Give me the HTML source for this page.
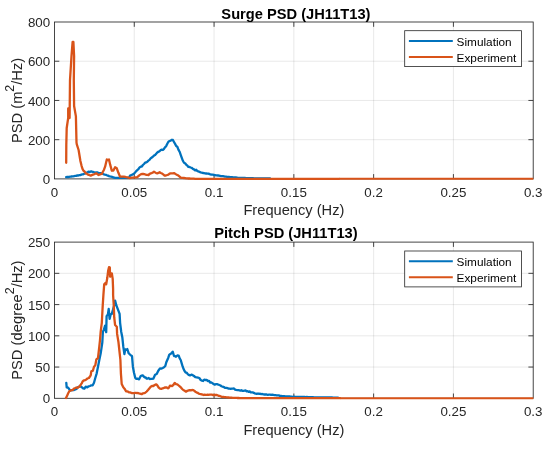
<!DOCTYPE html>
<html><head><meta charset="utf-8"><title>PSD plots</title>
<style>
html,body{margin:0;padding:0;background:#fff;}
svg{display:block;}
text{font-family:"Liberation Sans",Arial,Helvetica,sans-serif;fill:#262626;}
.tk{font-size:13.33px;}
.lg{font-size:11.8px;fill:#000;}
.lb{font-size:14.67px;}
.tt{font-size:14.67px;font-weight:bold;fill:#000;}
</style></head>
<body>
<svg width="550" height="450" viewBox="0 0 550 450">
<rect x="0" y="0" width="550" height="450" fill="#fff"/>
<rect x="54.5" y="22.0" width="478.70000000000005" height="156.9" fill="#fff"/>
<line x1="134.28" y1="22.0" x2="134.28" y2="178.9" stroke="#262626" stroke-opacity="0.13" stroke-width="0.8"/>
<line x1="214.07" y1="22.0" x2="214.07" y2="178.9" stroke="#262626" stroke-opacity="0.13" stroke-width="0.8"/>
<line x1="293.85" y1="22.0" x2="293.85" y2="178.9" stroke="#262626" stroke-opacity="0.13" stroke-width="0.8"/>
<line x1="373.63" y1="22.0" x2="373.63" y2="178.9" stroke="#262626" stroke-opacity="0.13" stroke-width="0.8"/>
<line x1="453.42" y1="22.0" x2="453.42" y2="178.9" stroke="#262626" stroke-opacity="0.13" stroke-width="0.8"/>
<line x1="54.5" y1="139.68" x2="533.2" y2="139.68" stroke="#262626" stroke-opacity="0.13" stroke-width="0.8"/>
<line x1="54.5" y1="100.45" x2="533.2" y2="100.45" stroke="#262626" stroke-opacity="0.13" stroke-width="0.8"/>
<line x1="54.5" y1="61.23" x2="533.2" y2="61.23" stroke="#262626" stroke-opacity="0.13" stroke-width="0.8"/>
<rect x="54.5" y="22.0" width="478.70000000000005" height="156.9" fill="none" stroke="#262626" stroke-width="0.85"/>
<text x="54.50" y="196.6" text-anchor="middle" class="tk">0</text>
<line x1="134.28" y1="178.9" x2="134.28" y2="174.1" stroke="#262626" stroke-width="0.85"/>
<line x1="134.28" y1="22.0" x2="134.28" y2="26.8" stroke="#262626" stroke-width="0.85"/>
<text x="134.28" y="196.6" text-anchor="middle" class="tk">0.05</text>
<line x1="214.07" y1="178.9" x2="214.07" y2="174.1" stroke="#262626" stroke-width="0.85"/>
<line x1="214.07" y1="22.0" x2="214.07" y2="26.8" stroke="#262626" stroke-width="0.85"/>
<text x="214.07" y="196.6" text-anchor="middle" class="tk">0.1</text>
<line x1="293.85" y1="178.9" x2="293.85" y2="174.1" stroke="#262626" stroke-width="0.85"/>
<line x1="293.85" y1="22.0" x2="293.85" y2="26.8" stroke="#262626" stroke-width="0.85"/>
<text x="293.85" y="196.6" text-anchor="middle" class="tk">0.15</text>
<line x1="373.63" y1="178.9" x2="373.63" y2="174.1" stroke="#262626" stroke-width="0.85"/>
<line x1="373.63" y1="22.0" x2="373.63" y2="26.8" stroke="#262626" stroke-width="0.85"/>
<text x="373.63" y="196.6" text-anchor="middle" class="tk">0.2</text>
<line x1="453.42" y1="178.9" x2="453.42" y2="174.1" stroke="#262626" stroke-width="0.85"/>
<line x1="453.42" y1="22.0" x2="453.42" y2="26.8" stroke="#262626" stroke-width="0.85"/>
<text x="453.42" y="196.6" text-anchor="middle" class="tk">0.25</text>
<text x="533.20" y="196.6" text-anchor="middle" class="tk">0.3</text>
<text x="50.2" y="184.0" text-anchor="end" class="tk">0</text>
<line x1="54.5" y1="139.68" x2="59.3" y2="139.68" stroke="#262626" stroke-width="0.85"/>
<line x1="533.2" y1="139.68" x2="528.4000000000001" y2="139.68" stroke="#262626" stroke-width="0.85"/>
<text x="50.2" y="144.8" text-anchor="end" class="tk">200</text>
<line x1="54.5" y1="100.45" x2="59.3" y2="100.45" stroke="#262626" stroke-width="0.85"/>
<line x1="533.2" y1="100.45" x2="528.4000000000001" y2="100.45" stroke="#262626" stroke-width="0.85"/>
<text x="50.2" y="105.5" text-anchor="end" class="tk">400</text>
<line x1="54.5" y1="61.23" x2="59.3" y2="61.23" stroke="#262626" stroke-width="0.85"/>
<line x1="533.2" y1="61.23" x2="528.4000000000001" y2="61.23" stroke="#262626" stroke-width="0.85"/>
<text x="50.2" y="66.3" text-anchor="end" class="tk">600</text>
<text x="50.2" y="27.1" text-anchor="end" class="tk">800</text>
<path d="M66.2,177.2 L67.2,177.0 L68.2,177.0 L69.2,176.8 L70.2,176.6 L71.2,176.5 L72.2,176.3 L73.2,176.3 L74.2,176.2 L75.2,175.8 L76.2,175.8 L77.3,175.4 L78.4,175.5 L79.6,175.1 L80.7,175.0 L81.8,174.4 L82.9,174.4 L84.0,173.8 L85.1,173.5 L86.2,172.6 L87.3,172.6 L88.4,171.7 L89.5,172.1 L90.7,171.5 L91.8,171.5 L92.9,172.0 L94.0,172.2 L95.1,172.7 L96.2,172.4 L97.3,172.4 L98.4,172.8 L99.5,173.1 L100.6,173.1 L101.8,173.6 L102.9,174.0 L104.0,174.4 L105.0,174.7 L106.0,174.9 L107.0,175.3 L108.0,175.6 L109.0,176.1 L110.0,176.4 L111.0,176.6 L112.0,176.8 L113.0,177.3 L114.0,177.5 L115.0,177.8 L116.0,177.8 L117.0,177.8 L118.0,177.9 L119.0,177.8 L120.0,177.7 L121.0,177.8 L122.0,177.8 L123.0,177.8 L124.0,177.9 L125.0,177.8 L126.0,177.8 L127.0,177.8 L128.0,177.8 L129.0,177.8 L130.1,175.6 L131.5,175.0 L132.9,174.4 L134.0,173.6 L135.1,172.5 L136.2,171.1 L137.3,170.1 L138.4,169.2 L139.6,167.4 L140.7,166.7 L141.8,166.5 L142.9,165.0 L144.0,164.0 L145.1,162.7 L146.2,162.4 L147.3,161.8 L148.4,160.6 L149.5,159.9 L150.6,158.4 L151.8,157.5 L152.9,156.6 L154.0,155.6 L155.1,155.0 L156.2,153.7 L157.3,152.5 L158.4,151.7 L159.5,151.3 L160.7,150.1 L161.8,149.7 L162.9,150.0 L164.0,148.9 L165.1,147.2 L166.2,146.1 L167.3,143.7 L168.4,141.7 L169.6,141.0 L170.7,140.6 L171.8,139.8 L172.9,140.0 L174.0,142.0 L175.1,143.9 L176.2,146.0 L177.3,146.7 L178.4,149.6 L179.6,151.7 L180.7,154.8 L181.8,157.8 L182.9,160.8 L184.0,162.8 L185.1,163.3 L186.2,164.7 L187.3,165.6 L188.4,166.9 L189.5,167.0 L190.7,167.5 L191.8,167.9 L192.9,168.9 L194.0,169.4 L195.1,170.4 L196.2,169.8 L197.3,171.1 L198.4,171.3 L199.5,171.9 L200.6,172.3 L201.8,172.6 L202.9,173.0 L204.0,173.1 L205.1,173.3 L206.2,173.5 L207.4,173.7 L208.5,173.6 L209.6,174.1 L210.7,174.5 L211.8,174.6 L212.9,174.6 L214.0,175.0 L215.0,175.1 L216.0,175.3 L217.0,175.4 L218.0,175.5 L219.0,175.7 L220.0,175.9 L221.0,176.1 L222.0,176.1 L223.0,176.2 L224.0,176.4 L225.0,176.6 L226.0,176.6 L227.0,176.8 L228.0,176.9 L229.0,177.0 L230.0,177.1 L231.0,177.2 L232.0,177.2 L233.0,177.4 L234.0,177.4 L235.0,177.4 L236.0,177.5 L237.0,177.6 L238.0,177.8 L239.0,177.8 L240.0,177.9 L241.0,177.9 L242.0,178.0 L243.0,178.0 L244.0,178.0 L245.0,178.0 L246.0,178.1 L247.0,178.1 L248.0,178.1 L249.0,178.2 L250.0,178.2 L251.0,178.2 L252.0,178.2 L253.0,178.2 L254.0,178.3 L255.0,178.3 L256.0,178.3 L257.0,178.3 L258.0,178.3 L259.0,178.4 L260.0,178.4 L261.0,178.4 L262.0,178.4 L263.0,178.4 L264.0,178.4 L265.0,178.4 L266.0,178.4 L267.0,178.5 L268.0,178.5 L269.0,178.5 L270.0,178.5" fill="none" stroke="#0072BD" stroke-width="2.3" stroke-linejoin="round" stroke-linecap="round"/>
<path d="M339.1,178.8 L533.3,178.8" fill="none" stroke="#D95319" stroke-width="2" stroke-linecap="butt"/>
<path d="M66.2,162.8 L66.3,145.0 L66.7,128.0 L68.2,117.8 L68.2,108.4 L68.9,118.0 L69.6,118.0 L70.0,80.0 L71.5,56.0 L72.6,42.0 L73.4,42.0 L74.1,56.0 L73.8,80.0 L74.1,106.0 L75.9,116.4 L76.5,142.5 L76.8,144.4 L78.6,150.0 L80.4,161.0 L81.5,165.6 L82.5,168.9 L83.5,170.8 L84.6,171.5 L85.6,173.3 L86.6,173.5 L87.6,174.4 L88.7,174.8 L89.7,175.2 L90.7,175.6 L91.8,175.1 L92.9,174.7 L94.0,174.3 L95.1,173.8 L96.2,173.3 L97.3,174.0 L98.4,175.0 L99.5,174.6 L100.7,174.2 L101.8,173.9 L102.9,171.7 L104.0,169.7 L105.1,166.7 L106.8,159.4 L107.9,160.1 L109.0,159.4 L110.1,164.4 L111.8,170.6 L113.4,170.6 L115.1,167.2 L116.8,168.3 L118.4,172.8 L120.1,176.7 L121.4,176.7 L122.7,176.7 L124.0,176.7 L125.1,176.9 L126.2,177.2 L127.3,177.4 L128.5,177.7 L129.6,178.0 L130.7,177.9 L131.8,177.7 L132.9,177.6 L134.0,177.6 L135.1,177.4 L136.2,177.3 L137.3,177.2 L138.4,176.2 L139.6,175.1 L140.7,174.4 L142.3,173.9 L143.3,174.0 L144.3,174.1 L145.4,174.5 L146.4,174.9 L147.4,174.9 L148.4,175.0 L149.6,174.0 L150.7,173.3 L151.8,173.1 L152.9,172.5 L154.0,171.7 L155.1,172.4 L156.2,173.1 L157.3,173.3 L158.4,172.9 L159.6,172.2 L160.7,173.0 L161.8,173.3 L163.2,174.4 L164.6,175.6 L165.9,175.5 L167.3,175.0 L168.4,174.7 L169.6,173.7 L170.7,173.3 L171.8,173.4 L172.9,173.3 L174.0,173.1 L175.1,173.7 L176.2,174.4 L177.3,175.0 L178.4,175.6 L179.6,176.6 L180.7,177.6 L181.8,177.8 L182.9,177.9 L184.0,178.0 L185.1,178.1 L186.2,178.3 L187.3,178.4 L188.4,178.5 L189.5,178.5 L190.6,178.6 L191.7,178.6 L192.8,178.7 L193.9,178.7 L195.0,178.8 L196.0,178.8 L197.0,178.8 L198.0,178.8 L199.0,178.8 L200.0,178.8 L201.0,178.8 L202.0,178.8 L203.0,178.8 L204.0,178.8 L205.0,178.8 L206.0,178.8 L207.0,178.8 L208.0,178.8 L209.0,178.8 L210.0,178.8 L211.0,178.8 L212.0,178.8 L213.0,178.8 L214.0,178.8 L215.0,178.8 L216.0,178.8 L217.0,178.8 L218.0,178.8 L219.0,178.8 L220.0,178.8 L221.0,178.8 L222.0,178.8 L223.0,178.8 L224.0,178.8 L225.0,178.8 L226.0,178.8 L227.0,178.8 L228.0,178.8 L229.0,178.8 L230.0,178.8 L231.0,178.8 L232.0,178.8 L233.0,178.8 L234.0,178.8 L235.0,178.8 L236.0,178.8 L237.0,178.8 L238.0,178.8 L239.0,178.8 L240.0,178.8 L241.0,178.8 L242.0,178.8 L243.0,178.8 L244.0,178.8 L245.0,178.8 L246.0,178.8 L247.0,178.8 L248.0,178.8 L249.0,178.8 L250.0,178.8 L251.0,178.8 L252.1,178.8 L253.1,178.8 L254.1,178.8 L255.1,178.8 L256.1,178.8 L257.1,178.8 L258.1,178.8 L259.1,178.8 L260.1,178.8 L261.1,178.8 L262.1,178.8 L263.1,178.8 L264.1,178.8 L265.1,178.8 L266.1,178.8 L267.1,178.8 L268.1,178.8 L269.1,178.8 L270.1,178.8 L271.1,178.8 L272.1,178.8 L273.1,178.8 L274.1,178.8 L275.1,178.8 L276.1,178.8 L277.1,178.8 L278.1,178.8 L279.1,178.8 L280.1,178.8 L281.1,178.8 L282.1,178.8 L283.1,178.8 L284.1,178.8 L285.1,178.8 L286.1,178.8 L287.1,178.8 L288.1,178.8 L289.1,178.8 L290.1,178.8 L291.1,178.8 L292.1,178.8 L293.1,178.8 L294.1,178.8 L295.1,178.8 L296.1,178.8 L297.1,178.8 L298.1,178.8 L299.1,178.8 L300.1,178.8 L301.1,178.8 L302.1,178.8 L303.1,178.8 L304.1,178.8 L305.1,178.8 L306.1,178.8 L307.1,178.8 L308.1,178.8 L309.1,178.8 L310.1,178.8 L311.1,178.8 L312.1,178.8 L313.1,178.8 L314.1,178.8 L315.1,178.8 L316.1,178.8 L317.1,178.8 L318.1,178.8 L319.1,178.8 L320.1,178.8 L321.1,178.8 L322.1,178.8 L323.1,178.8 L324.1,178.8 L325.1,178.8 L326.1,178.8 L327.1,178.8 L328.1,178.8 L329.1,178.8 L330.1,178.8 L331.1,178.8 L332.1,178.8 L333.1,178.8 L334.1,178.8 L335.1,178.8 L336.1,178.8 L337.1,178.8 L338.1,178.8 L339.1,178.8" fill="none" stroke="#D95319" stroke-width="2.3" stroke-linejoin="round" stroke-linecap="round"/>
<text x="295.9" y="18.7" text-anchor="middle" class="tt">Surge PSD (JH11T13)</text>
<text x="293.9" y="215.3" text-anchor="middle" class="lb">Frequency (Hz)</text>
<text transform="translate(21.7,100.4) rotate(-90)" text-anchor="middle" class="lb">PSD (m<tspan dy="-7.3" font-size="12.4px">2</tspan><tspan dy="7.3">/Hz)</tspan></text>
<rect x="404.7" y="30.7" width="116.8" height="35.9" fill="#fff" stroke="#262626" stroke-width="0.8"/>
<line x1="408.9" y1="41.0" x2="452.8" y2="41.0" stroke="#0072BD" stroke-width="2"/>
<line x1="408.9" y1="56.9" x2="452.8" y2="56.9" stroke="#D95319" stroke-width="2"/>
<text x="456.6" y="45.6" class="lg">Simulation</text>
<text x="456.6" y="61.5" class="lg">Experiment</text>
<rect x="54.5" y="242.1" width="478.70000000000005" height="156.20000000000002" fill="#fff"/>
<line x1="134.28" y1="242.1" x2="134.28" y2="398.3" stroke="#262626" stroke-opacity="0.13" stroke-width="0.8"/>
<line x1="214.07" y1="242.1" x2="214.07" y2="398.3" stroke="#262626" stroke-opacity="0.13" stroke-width="0.8"/>
<line x1="293.85" y1="242.1" x2="293.85" y2="398.3" stroke="#262626" stroke-opacity="0.13" stroke-width="0.8"/>
<line x1="373.63" y1="242.1" x2="373.63" y2="398.3" stroke="#262626" stroke-opacity="0.13" stroke-width="0.8"/>
<line x1="453.42" y1="242.1" x2="453.42" y2="398.3" stroke="#262626" stroke-opacity="0.13" stroke-width="0.8"/>
<line x1="54.5" y1="367.06" x2="533.2" y2="367.06" stroke="#262626" stroke-opacity="0.13" stroke-width="0.8"/>
<line x1="54.5" y1="335.82" x2="533.2" y2="335.82" stroke="#262626" stroke-opacity="0.13" stroke-width="0.8"/>
<line x1="54.5" y1="304.58" x2="533.2" y2="304.58" stroke="#262626" stroke-opacity="0.13" stroke-width="0.8"/>
<line x1="54.5" y1="273.34" x2="533.2" y2="273.34" stroke="#262626" stroke-opacity="0.13" stroke-width="0.8"/>
<rect x="54.5" y="242.1" width="478.70000000000005" height="156.20000000000002" fill="none" stroke="#262626" stroke-width="0.85"/>
<text x="54.50" y="416.0" text-anchor="middle" class="tk">0</text>
<line x1="134.28" y1="398.3" x2="134.28" y2="393.5" stroke="#262626" stroke-width="0.85"/>
<line x1="134.28" y1="242.1" x2="134.28" y2="246.9" stroke="#262626" stroke-width="0.85"/>
<text x="134.28" y="416.0" text-anchor="middle" class="tk">0.05</text>
<line x1="214.07" y1="398.3" x2="214.07" y2="393.5" stroke="#262626" stroke-width="0.85"/>
<line x1="214.07" y1="242.1" x2="214.07" y2="246.9" stroke="#262626" stroke-width="0.85"/>
<text x="214.07" y="416.0" text-anchor="middle" class="tk">0.1</text>
<line x1="293.85" y1="398.3" x2="293.85" y2="393.5" stroke="#262626" stroke-width="0.85"/>
<line x1="293.85" y1="242.1" x2="293.85" y2="246.9" stroke="#262626" stroke-width="0.85"/>
<text x="293.85" y="416.0" text-anchor="middle" class="tk">0.15</text>
<line x1="373.63" y1="398.3" x2="373.63" y2="393.5" stroke="#262626" stroke-width="0.85"/>
<line x1="373.63" y1="242.1" x2="373.63" y2="246.9" stroke="#262626" stroke-width="0.85"/>
<text x="373.63" y="416.0" text-anchor="middle" class="tk">0.2</text>
<line x1="453.42" y1="398.3" x2="453.42" y2="393.5" stroke="#262626" stroke-width="0.85"/>
<line x1="453.42" y1="242.1" x2="453.42" y2="246.9" stroke="#262626" stroke-width="0.85"/>
<text x="453.42" y="416.0" text-anchor="middle" class="tk">0.25</text>
<text x="533.20" y="416.0" text-anchor="middle" class="tk">0.3</text>
<text x="50.2" y="403.4" text-anchor="end" class="tk">0</text>
<line x1="54.5" y1="367.06" x2="59.3" y2="367.06" stroke="#262626" stroke-width="0.85"/>
<line x1="533.2" y1="367.06" x2="528.4000000000001" y2="367.06" stroke="#262626" stroke-width="0.85"/>
<text x="50.2" y="372.2" text-anchor="end" class="tk">50</text>
<line x1="54.5" y1="335.82" x2="59.3" y2="335.82" stroke="#262626" stroke-width="0.85"/>
<line x1="533.2" y1="335.82" x2="528.4000000000001" y2="335.82" stroke="#262626" stroke-width="0.85"/>
<text x="50.2" y="340.9" text-anchor="end" class="tk">100</text>
<line x1="54.5" y1="304.58" x2="59.3" y2="304.58" stroke="#262626" stroke-width="0.85"/>
<line x1="533.2" y1="304.58" x2="528.4000000000001" y2="304.58" stroke="#262626" stroke-width="0.85"/>
<text x="50.2" y="309.7" text-anchor="end" class="tk">150</text>
<line x1="54.5" y1="273.34" x2="59.3" y2="273.34" stroke="#262626" stroke-width="0.85"/>
<line x1="533.2" y1="273.34" x2="528.4000000000001" y2="273.34" stroke="#262626" stroke-width="0.85"/>
<text x="50.2" y="278.4" text-anchor="end" class="tk">200</text>
<text x="50.2" y="247.2" text-anchor="end" class="tk">250</text>
<path d="M66.3,382.9 L66.7,387.3 L67.7,387.5 L68.7,388.3 L70.0,390.4 L71.0,390.3 L72.0,390.1 L73.0,390.2 L74.0,390.0 L75.3,389.5 L76.7,388.7 L78.0,387.1 L79.3,386.7 L80.7,386.3 L82.0,387.3 L83.2,388.4 L84.4,388.7 L85.7,386.7 L87.3,387.3 L88.7,386.3 L90.0,386.0 L91.3,385.3 L92.7,385.3 L94.0,382.7 L95.3,378.0 L96.7,373.3 L98.0,366.7 L99.3,360.0 L100.7,353.3 L102.3,342.7 L102.9,331.7 L104.0,329.4 L105.1,325.6 L106.2,332.2 L106.6,316.1 L107.9,314.4 L108.7,308.9 L109.6,318.9 L110.7,314.4 L111.8,313.9 L113.1,309.4 L114.0,306.0 L115.1,300.6 L116.2,305.0 L117.9,309.4 L119.6,313.9 L120.1,322.8 L121.2,331.7 L122.3,337.2 L123.3,346.7 L124.4,354.0 L125.3,349.3 L126.3,349.9 L127.3,349.0 L128.7,353.3 L129.7,354.3 L130.7,355.3 L132.0,356.0 L132.9,366.7 L134.0,372.7 L135.3,378.0 L136.3,378.9 L137.3,378.7 L139.1,379.3 L140.7,376.0 L141.7,375.6 L142.7,375.3 L143.7,376.5 L144.7,377.3 L145.7,377.5 L146.7,378.7 L147.7,378.6 L148.7,378.0 L149.7,379.0 L150.7,378.9 L152.0,378.8 L153.3,378.7 L155.1,374.7 L156.7,374.0 L158.3,370.7 L160.0,368.4 L161.3,368.6 L162.7,368.0 L164.0,367.3 L165.3,366.0 L166.3,362.3 L167.3,360.0 L168.3,357.7 L169.3,354.7 L170.3,354.1 L171.3,353.3 L172.7,351.7 L174.0,356.0 L175.0,356.1 L176.0,356.7 L177.3,355.5 L178.7,355.7 L179.7,358.4 L180.7,360.0 L181.7,363.3 L182.7,366.7 L183.7,369.3 L184.7,371.3 L185.7,372.6 L186.7,372.7 L187.7,374.1 L188.7,374.9 L190.0,375.4 L191.3,374.7 L192.7,375.2 L194.0,376.0 L195.3,377.1 L196.7,377.3 L198.0,377.6 L199.3,378.0 L200.7,380.0 L202.0,380.7 L203.1,381.0 L204.2,379.6 L205.3,380.0 L206.7,380.0 L208.0,381.0 L209.1,381.0 L210.2,382.6 L211.3,382.4 L212.4,383.1 L213.6,384.1 L214.7,384.7 L216.1,384.2 L217.4,384.2 L218.4,384.7 L219.4,385.0 L220.5,385.5 L221.5,386.2 L222.7,386.7 L223.9,387.1 L225.2,387.9 L226.4,387.8 L227.5,388.2 L228.6,388.6 L229.7,388.6 L230.7,388.9 L231.8,388.7 L232.9,388.6 L234.0,388.5 L235.1,389.6 L236.2,389.9 L237.3,390.1 L238.4,390.1 L239.5,390.3 L240.5,390.6 L241.5,390.2 L242.5,390.9 L243.6,390.8 L244.6,390.6 L245.6,390.5 L246.6,391.3 L247.6,391.1 L248.6,391.8 L249.7,391.4 L250.7,392.3 L251.7,392.3 L252.7,392.4 L253.8,392.8 L254.8,393.4 L255.8,393.6 L256.9,393.9 L258.0,393.5 L259.1,393.9 L260.2,393.7 L261.2,394.2 L262.3,394.0 L263.4,394.4 L264.5,394.5 L265.6,394.4 L266.7,394.5 L267.8,394.8 L268.9,394.6 L270.0,394.6 L271.1,394.9 L272.2,394.7 L273.3,394.9 L274.4,395.1 L275.5,395.2 L276.6,395.4 L277.7,395.3 L278.8,395.4 L279.9,395.8 L280.9,395.8 L282.0,396.1 L283.1,396.2 L284.2,396.1 L285.3,396.3 L286.4,396.3 L287.5,396.4 L288.6,396.5 L289.7,396.5 L290.7,396.6 L291.8,396.7 L292.9,396.8 L294.0,396.7 L295.1,396.8 L296.2,396.8 L297.2,396.9 L298.3,396.8 L299.4,396.9 L300.4,397.0 L301.5,397.0 L302.6,397.0 L303.6,397.0 L304.7,397.0 L305.7,397.1 L306.8,397.0 L307.9,397.2 L308.9,397.2 L310.0,397.2 L311.0,397.2 L312.0,397.2 L313.0,397.2 L314.0,397.3 L315.0,397.3 L316.0,397.3 L317.0,397.3 L318.0,397.3 L319.0,397.3 L320.0,397.4 L321.0,397.4 L322.0,397.4 L323.0,397.4 L324.0,397.4 L325.0,397.4 L326.0,397.4 L327.0,397.4 L328.0,397.5 L329.0,397.5 L330.0,397.5 L331.0,397.5 L332.0,397.5 L333.0,397.6 L334.0,397.6 L335.0,397.6 L336.0,397.7 L337.0,397.7 L338.0,397.7" fill="none" stroke="#0072BD" stroke-width="2.3" stroke-linejoin="round" stroke-linecap="round"/>
<path d="M339.9,398.2 L533.3,398.2" fill="none" stroke="#D95319" stroke-width="2" stroke-linecap="butt"/>
<path d="M66.0,398.0 L67.1,395.7 L68.2,393.3 L69.3,391.3 L70.4,390.8 L71.6,390.1 L72.7,390.0 L74.0,388.5 L75.3,388.0 L76.4,387.5 L77.6,387.8 L78.7,386.9 L79.7,386.3 L80.7,384.7 L81.7,383.4 L82.7,381.3 L83.8,380.3 L84.9,380.3 L86.0,379.7 L87.5,378.5 L88.9,378.0 L90.7,375.3 L91.3,371.3 L92.9,370.7 L94.0,366.7 L95.3,365.3 L96.4,359.3 L98.0,358.0 L99.3,346.7 L100.0,340.0 L100.7,331.7 L101.8,322.8 L102.7,306.0 L103.4,295.0 L104.2,284.4 L105.7,282.8 L106.2,284.4 L107.3,277.8 L108.2,270.5 L109.0,267.2 L109.8,267.4 L110.1,276.7 L110.7,273.3 L111.8,273.3 L112.7,278.9 L113.1,288.9 L113.1,295.0 L113.8,306.0 L114.2,317.2 L115.1,325.0 L116.8,326.7 L117.1,333.9 L118.4,341.7 L119.1,348.0 L120.4,360.0 L120.9,373.3 L121.7,384.0 L123.3,387.3 L124.7,388.9 L126.0,391.3 L127.0,391.3 L128.0,391.6 L129.0,392.4 L130.0,392.4 L131.0,392.8 L132.0,393.0 L133.0,393.1 L134.0,393.1 L135.0,392.9 L136.0,392.9 L137.0,393.1 L138.0,393.0 L139.0,393.4 L140.0,393.7 L141.0,394.0 L142.0,394.0 L143.1,393.3 L144.2,393.2 L145.3,392.7 L146.7,391.5 L148.0,390.0 L149.3,388.4 L150.7,386.7 L152.0,385.9 L153.3,386.0 L154.3,385.3 L155.3,384.7 L156.3,384.4 L157.3,385.3 L158.7,387.6 L160.0,388.7 L161.3,388.9 L162.7,388.3 L164.0,387.9 L165.3,387.3 L166.7,387.5 L168.0,388.3 L169.0,387.5 L170.0,385.6 L171.0,385.9 L172.0,386.0 L173.3,385.0 L174.7,382.9 L176.0,384.1 L177.3,384.3 L178.7,385.5 L180.0,386.7 L181.1,387.7 L182.2,389.0 L183.3,390.0 L184.7,390.8 L186.0,391.7 L187.3,390.8 L188.7,390.4 L189.8,390.1 L190.9,390.4 L192.0,390.0 L193.1,390.1 L194.2,390.7 L195.3,391.7 L196.4,392.4 L197.6,392.8 L198.7,393.6 L199.7,393.9 L200.7,394.1 L201.7,394.4 L202.7,394.7 L203.7,395.0 L204.7,394.7 L205.7,394.8 L206.7,394.9 L207.7,394.7 L208.7,394.9 L209.7,394.7 L210.7,394.7 L211.7,394.7 L212.7,395.0 L213.7,394.9 L214.7,395.0 L216.5,394.9 L217.5,395.3 L218.5,395.8 L219.5,395.9 L220.5,396.3 L221.5,396.8 L222.5,396.9 L223.5,397.0 L224.5,397.1 L225.6,397.2 L226.6,397.3 L227.6,397.4 L228.6,397.5 L229.6,397.6 L230.6,397.6 L231.6,397.7 L232.6,397.8 L233.6,397.8 L234.6,397.8 L235.6,397.9 L236.7,397.9 L237.7,398.0 L238.7,398.0 L239.7,398.1 L240.7,398.1 L241.7,398.2 L242.7,398.2 L243.7,398.2 L244.7,398.2 L245.7,398.2 L246.7,398.2 L247.7,398.2 L248.7,398.2 L249.7,398.2 L250.7,398.2 L251.7,398.2 L252.7,398.2 L253.7,398.2 L254.7,398.2 L255.7,398.2 L256.7,398.2 L257.7,398.2 L258.7,398.2 L259.7,398.2 L260.7,398.2 L261.7,398.2 L262.7,398.2 L263.7,398.2 L264.7,398.2 L265.7,398.2 L266.7,398.2 L267.8,398.2 L268.8,398.2 L269.8,398.2 L270.8,398.2 L271.8,398.2 L272.8,398.2 L273.8,398.2 L274.8,398.2 L275.8,398.2 L276.8,398.2 L277.8,398.2 L278.8,398.2 L279.8,398.2 L280.8,398.2 L281.8,398.2 L282.8,398.2 L283.8,398.2 L284.8,398.2 L285.8,398.2 L286.8,398.2 L287.8,398.2 L288.8,398.2 L289.8,398.2 L290.8,398.2 L291.8,398.2 L292.8,398.2 L293.8,398.2 L294.8,398.2 L295.8,398.2 L296.8,398.2 L297.8,398.2 L298.8,398.2 L299.8,398.2 L300.8,398.2 L301.8,398.2 L302.8,398.2 L303.8,398.2 L304.8,398.2 L305.8,398.2 L306.8,398.2 L307.8,398.2 L308.8,398.2 L309.8,398.2 L310.8,398.2 L311.8,398.2 L312.8,398.2 L313.8,398.2 L314.8,398.2 L315.9,398.2 L316.9,398.2 L317.9,398.2 L318.9,398.2 L319.9,398.2 L320.9,398.2 L321.9,398.2 L322.9,398.2 L323.9,398.2 L324.9,398.2 L325.9,398.2 L326.9,398.2 L327.9,398.2 L328.9,398.2 L329.9,398.2 L330.9,398.2 L331.9,398.2 L332.9,398.2 L333.9,398.2 L334.9,398.2 L335.9,398.2 L336.9,398.2 L337.9,398.2 L338.9,398.2 L339.9,398.2" fill="none" stroke="#D95319" stroke-width="2.3" stroke-linejoin="round" stroke-linecap="round"/>
<text x="285.9" y="237.9" text-anchor="middle" class="tt">Pitch PSD (JH11T13)</text>
<text x="293.9" y="434.7" text-anchor="middle" class="lb">Frequency (Hz)</text>
<text transform="translate(21.7,320.1) rotate(-90)" text-anchor="middle" class="lb">PSD (<tspan letter-spacing="0.12">degree</tspan><tspan dy="-7.3" font-size="12.4px">2</tspan><tspan dy="7.3">/Hz)</tspan></text>
<rect x="404.7" y="251.0" width="116.8" height="35.9" fill="#fff" stroke="#262626" stroke-width="0.8"/>
<line x1="408.9" y1="261.3" x2="452.8" y2="261.3" stroke="#0072BD" stroke-width="2"/>
<line x1="408.9" y1="277.2" x2="452.8" y2="277.2" stroke="#D95319" stroke-width="2"/>
<text x="456.6" y="265.9" class="lg">Simulation</text>
<text x="456.6" y="281.8" class="lg">Experiment</text>
</svg>
</body></html>
